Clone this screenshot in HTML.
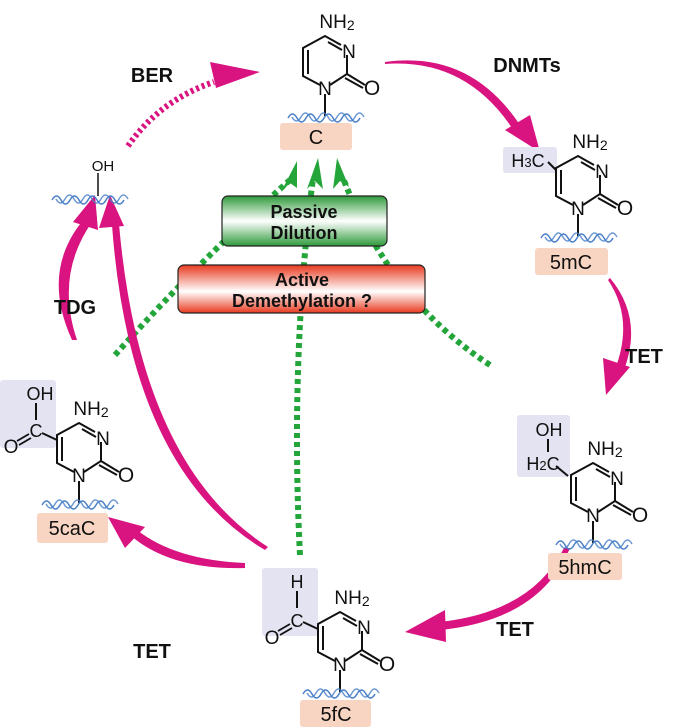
<!DOCTYPE html>
<html><head><meta charset="utf-8"><style>
html,body{margin:0;padding:0;background:#fff}
svg{display:block}
text{font-family:"Liberation Sans",sans-serif}
</style></head><body>
<svg width="685" height="728" viewBox="0 0 685 728" xmlns="http://www.w3.org/2000/svg">
<defs>
<linearGradient id="gG" x1="0" y1="0" x2="0" y2="1"><stop offset="0" stop-color="#2e9a3a"/><stop offset="0.5" stop-color="#ffffff"/><stop offset="1" stop-color="#2e9a3a"/></linearGradient>
<linearGradient id="gR" x1="0" y1="0" x2="0" y2="1"><stop offset="0" stop-color="#e8391e"/><stop offset="0.55" stop-color="#ffffff"/><stop offset="1" stop-color="#e8391e"/></linearGradient>
<g id="dna" fill="none" stroke="#4a7fc8" stroke-width="1.5">
<path d="M0 0 q4.5 -8 9 0 t9 0 t9 0 t9 0 t9 0 t9 0 t9 0 t9 0"/>
<path d="M0 0 q4.5 8 9 0 t9 0 t9 0 t9 0 t9 0 t9 0 t9 0 t9 0" transform="translate(4,-1)" opacity="0.8"/>
</g>
<g id="cyt">
<g fill="none" stroke="#111" stroke-width="2">
<path d="M-5 -3 L-22 -12 L-22 -40 L0 -52 L16 -43"/>
<path d="M-17 -14 L-17 -38"/>
<path d="M3 -46 L17 -38"/>
<path d="M22 -33 L22 -14 L5 -3"/>
<path d="M22 -14 L40 -3"/><path d="M20 -10 L38 0"/>
<path d="M0 6 L0 28"/>
</g>
<text x="0" y="7" font-size="19" text-anchor="middle" fill="#111">N</text>
<text x="24" y="-30" font-size="19" text-anchor="middle" fill="#111">N</text>
<text x="47" y="7" font-size="21" text-anchor="middle" fill="#111">O</text>
<text x="12" y="-60" font-size="19" text-anchor="middle" fill="#111">NH<tspan font-size="14" dy="2">2</tspan></text>
<use href="#dna" x="-37" y="30"/>
</g>
</defs>

<!-- green dashed lines -->
<g fill="none" stroke="#24a53a" stroke-width="6" stroke-dasharray="5 4">
<path d="M115 355 Q200 260 290 180"/>
<path d="M300 555 Q290 360 313 178"/>
<path d="M490 365 Q390 300 343 178"/>
</g>
<g fill="#24a53a">
<path d="M297 161 L281 192 L290 183 L297 188 Z"/>
<path d="M318 158 L307 189 L315 181 L323 189 Z"/>
<path d="M337 158 L333 189 L340 181 L349 187 Z"/>
</g>

<!-- boxes -->
<rect x="222" y="196" width="165" height="50" rx="6" fill="url(#gG)" stroke="#222" stroke-width="1.2"/>
<text x="304" y="218" font-size="18" font-weight="bold" text-anchor="middle" fill="#111">Passive</text>
<text x="304" y="239" font-size="18" font-weight="bold" text-anchor="middle" fill="#111">Dilution</text>
<rect x="178" y="265" width="247" height="48" rx="6" fill="url(#gR)" stroke="#222" stroke-width="1.2"/>
<text x="302" y="286" font-size="18" font-weight="bold" text-anchor="middle" fill="#111">Active</text>
<text x="302" y="307" font-size="18" font-weight="bold" text-anchor="middle" fill="#111">Demethylation ?</text>

<!-- magenta arrows -->
<g fill="#d9137f" stroke="none">
<path d="M128 146 Q160 100 214 82" fill="none" stroke="#d9137f" stroke-width="6" stroke-dasharray="3 3"/>
<path d="M260 72 L210 62 L216 88 Z"/>
<path d="M385 62 Q470 50 520 125 L512 128 Q465 58 385 64 Z"/>
<path d="M540 152 L505 130 L530 115 Z"/>
<path d="M610 278 Q645 320 622 375 L614 372 Q635 320 608 280 Z"/>
<path d="M606 395 L603 358 L630 367 Z"/>
<path d="M570 548 Q540 620 440 630 L440 622 Q532 612 564 548 Z"/>
<path d="M405 632 L445 610 L446 642 Z"/>
<path d="M245 568 Q170 570 130 535 L137 530 Q175 560 245 563 Z"/>
<path d="M108 517 L145 527 L125 548 Z"/>
<path d="M72 340 Q40 270 85 218 L92 222 Q55 275 77 340 Z"/>
<path d="M95 195 L73 222 L98 230 Z"/>
<path d="M265 550 Q130 470 112 225 L119 224 Q140 465 268 547 Z"/>
<path d="M110 195 L99 228 L124 226 Z"/>
</g>

<!-- labels -->
<g font-size="20" font-weight="bold" fill="#111" text-anchor="middle">
<text x="152" y="82">BER</text>
<text x="527" y="72">DNMTs</text>
<text x="644" y="363">TET</text>
<text x="515" y="636">TET</text>
<text x="152" y="658">TET</text>
<text x="75" y="314">TDG</text>
</g>

<!-- abasic -->
<text x="103" y="171" font-size="15" text-anchor="middle" fill="#111">OH</text>
<path d="M98 173 L98 196" stroke="#111" stroke-width="1.5"/>
<use href="#dna" x="52" y="200"/>

<!-- C -->
<use href="#cyt" x="325" y="88"/>
<rect x="280" y="123" width="72" height="27" rx="3" fill="#f8d5c2"/>
<text x="316" y="144" font-size="20" text-anchor="middle" fill="#111">C</text>

<!-- 5mC -->
<rect x="503" y="147" width="54" height="26" rx="3" fill="#e3e3f2"/>
<text x="528" y="167" font-size="18" text-anchor="middle" fill="#111">H<tspan font-size="13">3</tspan>C</text>
<path d="M548 162 L556 170" stroke="#111" stroke-width="2"/>
<use href="#cyt" x="578" y="208"/>
<rect x="535" y="248" width="73" height="27" rx="3" fill="#f8d5c2"/>
<text x="571" y="269" font-size="20" text-anchor="middle" fill="#111">5mC</text>

<!-- 5hmC -->
<rect x="517" y="415" width="53" height="62" rx="3" fill="#e3e3f2"/>
<text x="549" y="436" font-size="18" text-anchor="middle" fill="#111">OH</text>
<path d="M548 439 L548 452" stroke="#111" stroke-width="2"/>
<text x="543" y="470" font-size="18" text-anchor="middle" fill="#111">H<tspan font-size="13">2</tspan>C</text>
<path d="M556 466 L568 476" stroke="#111" stroke-width="2"/>
<use href="#cyt" x="593" y="515"/>
<rect x="548" y="553" width="74" height="27" rx="3" fill="#f8d5c2"/>
<text x="585" y="574" font-size="20" text-anchor="middle" fill="#111">5hmC</text>

<!-- 5fC -->
<rect x="262" y="568" width="56" height="68" rx="3" fill="#e3e3f2"/>
<text x="297" y="588" font-size="18" text-anchor="middle" fill="#111">H</text>
<path d="M297 591 L297 608" stroke="#111" stroke-width="2"/>
<text x="297" y="627" font-size="18" text-anchor="middle" fill="#111">C</text>
<path d="M303 622 L318 629" stroke="#111" stroke-width="2"/>
<path d="M278 631 L290 624 M280 635 L292 628" stroke="#111" stroke-width="1.8"/>
<text x="272" y="644" font-size="19" text-anchor="middle" fill="#111">O</text>
<use href="#cyt" x="340" y="664"/>
<rect x="300" y="700" width="71" height="27" rx="3" fill="#f8d5c2"/>
<text x="336" y="721" font-size="20" text-anchor="middle" fill="#111">5fC</text>

<!-- 5caC -->
<rect x="0" y="380" width="56" height="68" rx="3" fill="#e3e3f2"/>
<text x="40" y="400" font-size="18" text-anchor="middle" fill="#111">OH</text>
<path d="M36 403 L36 420" stroke="#111" stroke-width="2"/>
<text x="36" y="437" font-size="18" text-anchor="middle" fill="#111">C</text>
<path d="M42 433 L57 440" stroke="#111" stroke-width="2"/>
<path d="M17 441 L29 434 M19 445 L31 438" stroke="#111" stroke-width="1.8"/>
<text x="11" y="453" font-size="19" text-anchor="middle" fill="#111">O</text>
<use href="#cyt" x="79" y="475"/>
<rect x="37" y="513" width="71" height="30" rx="3" fill="#f8d5c2"/>
<text x="72" y="535" font-size="20" text-anchor="middle" fill="#111">5caC</text>
</svg>
</body></html>
